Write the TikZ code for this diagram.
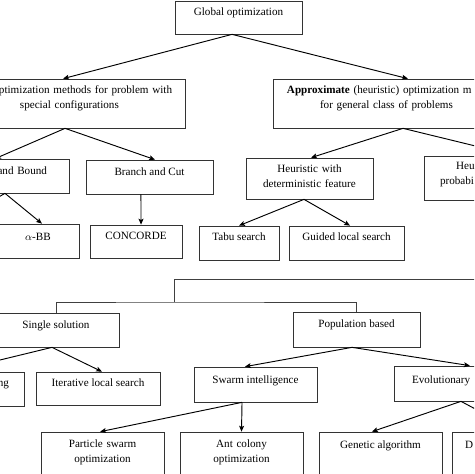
\documentclass[tikz,border=0pt]{standalone}
\usepackage{fontspec}
\setmainfont{Liberation Serif}
\usetikzlibrary{arrows.meta}
\begin{document}
\begin{tikzpicture}[x=0.03cm,y=-0.03cm,
        box/.style={draw=black!80,line width=0.6pt,rectangle,inner sep=0pt,align=center,font=\fontsize{9.5}{12.8}\selectfont},
        arr/.style={-{Stealth[length=5pt,width=4.2pt,inset=1pt]},line width=0.8pt,black}]
        \useasboundingbox (0,0) rectangle (474,474);
        \clip (0,0) rectangle (474,474);
        \node[box,minimum width=3.81cm,text height=0.435cm,text depth=0.555cm] (GO) at (238.5,17.5){Global optimization};
        \node[box,minimum width=5.7cm,text height=0.435cm,text depth=1.035cm,inner xsep=0.12cm,text width=5.46cm,align=left] (EM) at (90,103.5){ptimization methods for problem with\\\hspace*{17.9pt}special configurations};
        \node[box,minimum width=8.61cm,text height=0.435cm,text depth=1.035cm,inner xsep=0.42cm,text width=7.77cm,align=left] (AM) at (416.5,103.5){\textbf{Approximate} (heuristic) optimization m\\\hspace*{28.2pt}for general class of problems};
        \node[box,minimum width=3.84cm,text height=0.465cm,text depth=0.555cm,inner xsep=0.66cm,text width=2.52cm,align=right] (BB) at (5,176){and Bound};
        \node[box,minimum width=3.81cm,text height=0.465cm,text depth=0.555cm] (BC) at (149.5,177){Branch and Cut};
        \node[box,text width=3.81cm,text height=0.435cm,text depth=0.795cm] (HD) at (309.5,178.5){Heuristic with\\deterministic feature};
        \node[box,minimum width=6.48cm,text height=0.405cm,text depth=0.915cm,inner xsep=0.48cm,text width=5.52cm,align=left] (HP) at (532,178){\hspace*{13.7pt}Heu\\probabi};
        \node[box,minimum width=2.46cm,text height=0.495cm,text depth=0.525cm] (ABB) at (38,241){$\alpha$-BB};
        \node[box,minimum width=2.76cm,text height=0.435cm,text depth=0.555cm] (CC) at (136,241.5){CONCORDE};
        \node[box,minimum width=2.4cm,text height=0.435cm,text depth=0.585cm] (TS) at (239,243){Tabu search};
        \node[box,minimum width=3.45cm,text height=0.435cm,text depth=0.585cm] (GLS) at (346.5,243){Guided local search};
        \node[box,minimum width=3.78cm,text height=0.465cm,text depth=0.555cm] (SS) at (56,330){Single solution};
        \node[box,minimum width=3.81cm,text height=0.465cm,text depth=0.585cm] (PB) at (356.5,329.5){Population based};
        \node[box,minimum width=3.72cm,text height=0.435cm,text depth=0.585cm,inner xsep=0.45cm,text width=2.82cm,align=right] (SA) at (-38,389){ng};
        \node[box,minimum width=3.72cm,text height=0.435cm,text depth=0.555cm] (ILS) at (98,388.5){Iterative local search};
        \node[box,minimum width=3.69cm,text height=0.495cm,text depth=0.555cm] (SI) at (255.5,384.5){Swarm intelligence};
        \node[box,minimum width=3.78cm,text height=0.525cm,text depth=0.525cm,inner xsep=0.54cm,text width=2.7cm,align=left] (EA) at (457,383.5){Evolutionary};
        \node[box,text width=3.69cm,text height=0.465cm,text depth=1.035cm] (PSO) at (102.5,457){Particle swarm\\optimization};
        \node[box,text width=3.69cm,text height=0.465cm,text depth=1.035cm] (ACO) at (241.5,457){Ant colony\\optimization};
        \node[box,minimum width=3.69cm,text height=0.495cm,text depth=1.005cm] (GA) at (380.5,457){Genetic algorithm};
        \node[box,minimum width=3.69cm,text height=0.495cm,text depth=1.005cm,inner xsep=0.39cm,text width=2.91cm,align=left] (DE) at (513.5,457){D};
        \coordinate (BBL) at (-45,222);
        \coordinate (HPF) at (520,279);
        \coordinate (BRK) at (174,302);
        \draw[arr] ([xshift=-5.5pt]GO.south) to ([xshift=-23pt]EM.north);
        \draw[arr] ([xshift=-5.5pt]GO.south) to ([xshift=-7.3pt]AM.north);
        \draw[arr] ([xshift=-21.3pt]EM.south) to ([xshift=-8.5pt]BB.north);
        \draw[arr] ([xshift=-21.3pt]EM.south) to ([xshift=4.7pt]BC.north);
        \draw[arr] (BB.south) to ([xshift=3.4pt]ABB.north);
        \draw[arr] (BB.south) to (BBL);
        \draw[arr] ([xshift=-7.3pt]BC.south) to ([xshift=4.3pt]CC.north);
        \draw[arr] ([xshift=-11.5pt]AM.south) to ([xshift=1.3pt]HD.north);
        \draw[arr] ([xshift=-11.5pt]AM.south) to ([xshift=-14.5pt]HP.north);
        \draw[arr] ([xshift=-4.7pt]HD.south) to (TS.north);
        \draw[arr] ([xshift=-4.7pt]HD.south) to ([xshift=3pt]GLS.north);
        \draw[black!75,line width=0.6pt] (HPF) -| (BRK);
        \draw[black!75,line width=0.6pt] (SS.north) |- (BRK) -| (PB.north);
        \draw[arr] ([xshift=-3.4pt]SS.south) to ([xshift=-8.5pt]SA.north);
        \draw[arr] ([xshift=-3.4pt]SS.south) to ([xshift=3.4pt]ILS.north);
        \draw[arr] ([xshift=-3.8pt]PB.south) to ([xshift=-9pt]SI.north);
        \draw[arr] ([xshift=-3.8pt]PB.south) to ([xshift=11pt]EA.north);
        \draw[arr] ([xshift=-11.5pt]SI.south) to ([xshift=-2pt]PSO.north);
        \draw[arr] ([xshift=-11.5pt]SI.south) to (ACO.north);
        \draw[arr] ([xshift=3.4pt]EA.south) to ([xshift=-7.3pt]GA.north);
        \draw[arr] ([xshift=3.4pt]EA.south) to ([xshift=3.8pt]DE.north);
    \end{tikzpicture}
\end{document}
